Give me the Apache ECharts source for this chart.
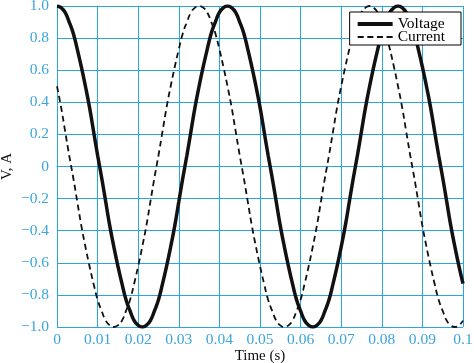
<!DOCTYPE html>
<html>
<head>
<meta charset="utf-8">
<script src="https://cdn.jsdelivr.net/npm/echarts@6/dist/echarts.min.js"></script>
<style>
  html, body { margin: 0; padding: 0; background: #fff; }
  #chart { width: 474px; height: 363px; }
</style>
</head>
<body>
<div id="chart"></div>
<script>
// samples every 1 ms
const timeStep = 0.001
const voltage = [
  1, 0.99, 0.96, 0.9, 0.83, 0.73, 0.62, 0.5, 0.37, 0.22, 0.07, -0.07, -0.22, -0.37,
  -0.5, -0.62, -0.73, -0.83, -0.9, -0.96, -0.99, -1, -0.99, -0.96, -0.9, -0.83, -0.73,
  -0.62, -0.5, -0.37, -0.22, -0.07, 0.07, 0.22, 0.37, 0.5, 0.62, 0.73, 0.83, 0.9, 0.96, 0.99,
  1, 0.99, 0.96, 0.9, 0.83, 0.73, 0.62, 0.5, 0.37, 0.22, 0.07, -0.07, -0.22, -0.37,
  -0.5, -0.62, -0.73, -0.83, -0.9, -0.96, -0.99, -1, -0.99, -0.96, -0.9, -0.83, -0.73,
  -0.62, -0.5, -0.37, -0.22, -0.07, 0.07, 0.22, 0.37, 0.5, 0.62, 0.73, 0.83, 0.9, 0.96, 0.99,
  1, 0.99, 0.96, 0.9, 0.83, 0.73, 0.62, 0.5, 0.37, 0.22, 0.07, -0.07, -0.22, -0.37,
  -0.5, -0.62, -0.73
]
const current = [
  0.5, 0.37, 0.22, 0.07, -0.07, -0.22, -0.37, -0.5, -0.62, -0.73, -0.83, -0.9, -0.96, -0.99,
  -1, -0.99, -0.96, -0.9, -0.83, -0.73, -0.62, -0.5, -0.37, -0.22, -0.07, 0.07, 0.22,
  0.37, 0.5, 0.62, 0.73, 0.83, 0.9, 0.96, 0.99,
  1, 0.99, 0.96, 0.9, 0.83, 0.73, 0.62, 0.5, 0.37, 0.22, 0.07, -0.07, -0.22, -0.37,
  -0.5, -0.62, -0.73, -0.83, -0.9, -0.96, -0.99, -1, -0.99, -0.96, -0.9, -0.83, -0.73,
  -0.62, -0.5, -0.37, -0.22, -0.07, 0.07, 0.22, 0.37, 0.5, 0.62, 0.73, 0.83, 0.9, 0.96, 0.99,
  1, 0.99, 0.96, 0.9, 0.83, 0.73, 0.62, 0.5, 0.37, 0.22, 0.07, -0.07, -0.22, -0.37,
  -0.5, -0.62, -0.73, -0.83, -0.9, -0.96, -0.99, -1, -0.99, -0.96
]
const seriesNames = ['Voltage', 'Current']
const xTicks = [0, 0.01, 0.02, 0.03, 0.04, 0.05, 0.06, 0.07, 0.08, 0.09, 0.1]

const gridBlue = '#2aa6df'
const labelBlue = '#3aa5dc'
const serif = '"Liberation Serif", "DejaVu Serif", serif'

function pairs(vals) {
  return vals.map((v, i) => [+(i * timeStep).toFixed(3), v])
}

const chart = echarts.init(document.getElementById('chart'))
chart.setOption({
  animation: false,
  grid: { left: 57, right: 11, top: 6, bottom: 36, outerBoundsMode: 'none', containLabel: false },
  legend: {
    orient: 'vertical',
    right: 13,
    top: 12,
    data: [
      { name: seriesNames[0], icon: 'path://M0,0h35v4h-35z' },
      { name: seriesNames[1], icon: 'path://M0,0h6v2h-6zM9.5,0h6v2h-6zM19,0h6v2h-6zM28.5,0h6v2h-6z' }
    ],
    backgroundColor: '#fff',
    borderColor: '#000',
    borderWidth: 1,
    borderRadius: 0,
    padding: [4, 16, 0, 8],
    itemGap: -3,
    itemWidth: 35,
    itemHeight: 4,
    itemStyle: { color: '#111', borderWidth: 0 },
    textStyle: { fontFamily: serif, fontSize: 15.5, color: '#000' }
  },
  xAxis: {
    type: 'value',
    min: 0,
    max: 0.1,
    interval: 0.01,
    name: 'Time (s)',
    nameLocation: 'middle',
    nameGap: 22,
    nameMoveOverlap: false,
    nameTextStyle: { fontFamily: serif, fontSize: 15, color: '#111' },
    axisLine: { lineStyle: { color: gridBlue, width: 1 } },
    axisTick: { show: false },
    axisLabel: {
      fontFamily: serif, fontSize: 15.5, color: labelBlue, margin: 5,
      formatter: v => {
        const t = xTicks.find(x => Math.abs(x - v) < 1e-9)
        return t === undefined ? '' : String(t)
      }
    },
    splitLine: { show: true, lineStyle: { color: gridBlue, width: 1 } }
  },
  yAxis: {
    type: 'value',
    min: -1,
    max: 1,
    interval: 0.2,
    name: 'V, A',
    nameLocation: 'middle',
    nameGap: 42,
    nameMoveOverlap: false,
    nameTextStyle: { fontFamily: serif, fontSize: 15, color: '#111' },
    axisLine: { show: true, lineStyle: { color: gridBlue, width: 1 } },
    axisTick: { show: false },
    axisLabel: {
      fontFamily: serif, fontSize: 15.5, color: labelBlue, margin: 8,
      formatter: v => Math.abs(v) < 1e-9 ? '0' : v.toFixed(1).replace('-', '\u2212')
    },
    splitLine: { show: true, lineStyle: { color: gridBlue, width: 1 } }
  },
  series: [
    {
      name: seriesNames[0],
      type: 'line',
      data: pairs(voltage),
      symbol: 'none',
      smooth: true,
      color: '#111',
      lineStyle: { color: '#111', width: 3.5 }
    },
    {
      name: seriesNames[1],
      type: 'line',
      data: pairs(current),
      symbol: 'none',
      smooth: true,
      color: '#111',
      lineStyle: { color: '#111', width: 1.8, type: [6, 4] }
    }
  ]
})
</script>
</body>
</html>
